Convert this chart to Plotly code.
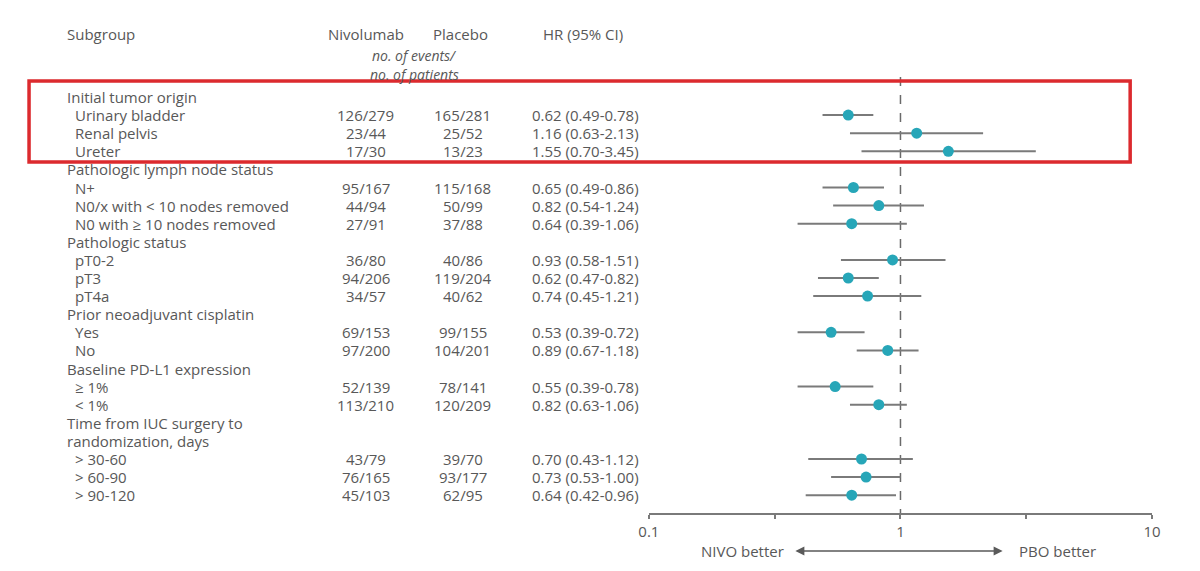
import plotly.graph_objects as go

# ---------------- data ----------------
row_labels = [
    "Initial tumor origin", "Urinary bladder", "Renal pelvis", "Ureter",
    "Pathologic lymph node status", "N+", "N0/x with < 10 nodes removed", "N0 with ≥ 10 nodes removed",
    "Pathologic status", "pT0-2", "pT3", "pT4a",
    "Prior neoadjuvant cisplatin", "Yes", "No",
    "Baseline PD-L1 expression", "≥ 1%", "< 1%",
    "Time from IUC surgery to", "randomization, days", "> 30-60", "> 60-90", "> 90-120",
]
is_header = [True, False, False, False,
             True, False, False, False,
             True, False, False, False,
             True, False, False,
             True, False, False,
             True, True, False, False, False]
nivo = [None, "126/279", "23/44", "17/30",
        None, "95/167", "44/94", "27/91",
        None, "36/80", "94/206", "34/57",
        None, "69/153", "97/200",
        None, "52/139", "113/210",
        None, None, "43/79", "76/165", "45/103"]
placebo = [None, "165/281", "25/52", "13/23",
           None, "115/168", "50/99", "37/88",
           None, "40/86", "119/204", "40/62",
           None, "99/155", "104/201",
           None, "78/141", "120/209",
           None, None, "39/70", "93/177", "62/95"]
hr = [None, 0.62, 1.16, 1.55,
      None, 0.65, 0.82, 0.64,
      None, 0.93, 0.62, 0.74,
      None, 0.53, 0.89,
      None, 0.55, 0.82,
      None, None, 0.70, 0.73, 0.64]
lo = [None, 0.49, 0.63, 0.70,
      None, 0.49, 0.54, 0.39,
      None, 0.58, 0.47, 0.45,
      None, 0.39, 0.67,
      None, 0.39, 0.63,
      None, None, 0.43, 0.53, 0.42]
hi = [None, 0.78, 2.13, 3.45,
      None, 0.86, 1.24, 1.06,
      None, 1.51, 0.82, 1.21,
      None, 0.72, 1.18,
      None, 0.78, 1.06,
      None, None, 1.12, 1.00, 0.96]
tick_vals = [0.1, 0.3162, 1, 3.162, 10]
tick_text = ["0.1", "", "1", "", "10"]

# ---------------- layout constants ----------------
W, H = 1200, 571
TXT = "#585858"
FONT = "Open Sans"
FS = 15

# horizontal correction measured from the rendered capture
SX, OX = 0.9868, 7.89


def px(x):
    return ((x - OX) / SX) / W


def py(y):
    return 1 - y / H


rows = list(range(len(row_labels)))
pts_y = [i for i in rows if hr[i] is not None]
pts_x = [hr[i] for i in pts_y]
err_p = [hi[i] - hr[i] for i in pts_y]
err_m = [hr[i] - lo[i] for i in pts_y]

fig = go.Figure()

# reference dashed line at HR = 1
fig.add_trace(go.Scatter(x=[1, 1], y=[-1.1, 22.98], mode="lines",
                         line=dict(color="#6a6a6a", width=1.5, dash="dash"),
                         hoverinfo="skip", showlegend=False))

fig.add_trace(go.Scatter(
    x=pts_x, y=pts_y, mode="markers",
    marker=dict(size=11, color="#27a6b8"),
    error_x=dict(type="data", symmetric=False, array=err_p, arrayminus=err_m,
                 color="#7a7a7a", thickness=2, width=0),
    showlegend=False, hoverinfo="skip"))

ann = []


def add_text(text, x, y, anchor="left", yref="y", italic=False, size=FS):
    ann.append(dict(text=text, x=x, y=y, xref="paper", yref=yref,
                    xanchor=anchor, yanchor="middle", showarrow=False,
                    font=dict(family=FONT, size=size, color=TXT,
                              style="italic" if italic else "normal")))


# header
add_text("Subgroup", px(62), py(34), "left", "paper")
add_text("Nivolumab", px(364), py(34), "center", "paper")
add_text("Placebo", px(459), py(34), "center", "paper")
add_text("HR (95% CI)", px(582), py(34), "center", "paper")
add_text("no. of events/", px(413), py(56), "center", "paper", italic=True, size=14)
add_text("no. of patients", px(413), py(74), "center", "paper", italic=True, size=14)

for i in rows:
    x0 = 62 if is_header[i] else 70
    add_text(row_labels[i], px(x0), i, "left")
    if nivo[i] is not None:
        add_text(nivo[i], px(364), i, "center")
        add_text(placebo[i], px(461), i, "center")
        add_text(f"{hr[i]:.2f} ({lo[i]:.2f}-{hi[i]:.2f})", px(529), i, "left")

# bottom labels and arrow
add_text("NIVO better", px(742), py(551), "center", "paper")
add_text("PBO better", px(1058), py(551), "center", "paper")
ann.append(dict(x=px(1003), y=py(551), xref="paper", yref="paper",
                ax=-(1003 - 797) / SX, ay=0, text="", showarrow=True,
                arrowhead=2, startarrowhead=2, arrowside="end+start",
                arrowsize=1.2, startarrowsize=1.2, arrowwidth=1.5, arrowcolor="#5a5a5a"))

fig.update_layout(
    width=W, height=H,
    margin=dict(l=0, r=0, t=0, b=0),
    paper_bgcolor="white", plot_bgcolor="white",
    annotations=ann,
    shapes=[dict(type="rect", xref="paper", yref="paper",
                 x0=px(26), x1=px(1131), y0=py(162), y1=py(81),
                 line=dict(color="#dc2a2e", width=3.5))],
    xaxis=dict(type="log", range=[-1, 1], domain=[px(648), px(1153)],
               showline=True, linecolor="#7a7a7a", linewidth=2,
               ticks="outside", ticklen=4, tickwidth=2, tickcolor="#7a7a7a",
               tickvals=tick_vals, ticktext=tick_text,
               tickfont=dict(family=FONT, size=FS, color=TXT),
               showgrid=False, zeroline=False, fixedrange=True),
    yaxis=dict(domain=[(H - 513) / H, 1], range=[22.983, -5.359],
               visible=False, showgrid=False, zeroline=False),
    font=dict(family=FONT, size=FS, color=TXT),
)

fig.write_html("out.html")
